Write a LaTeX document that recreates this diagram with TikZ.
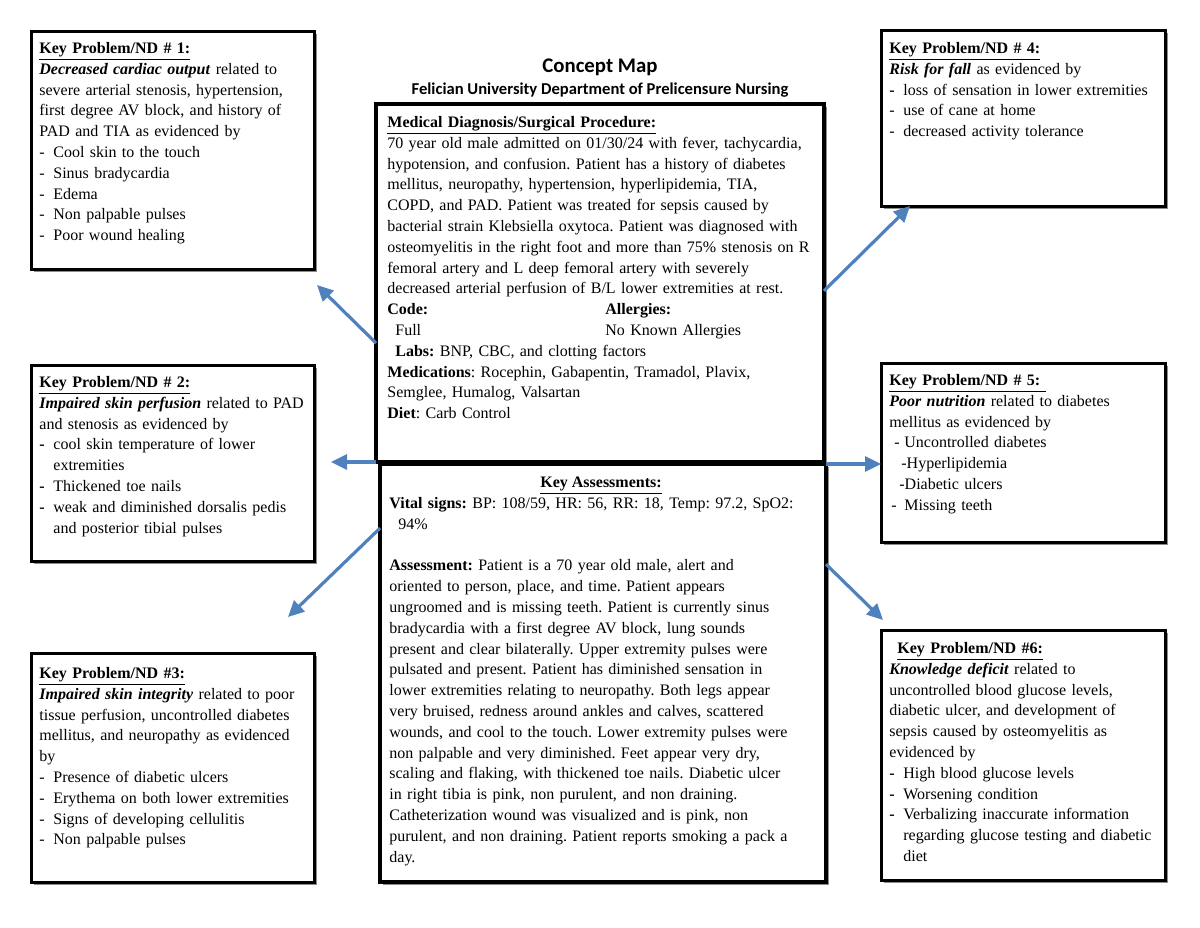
\documentclass[tikz,border=0pt]{standalone}
\usepackage{fontspec}
\setmainfont{Liberation Serif}
\newfontfamily\headfont{Carlito}
\usetikzlibrary{arrows.meta,calc,shadows}
\definecolor{linkblue}{RGB}{79,129,189}
\newcommand{\itemdash}{\makebox[7pt][l]{-}}
\newcommand{\bolddash}{\makebox[7pt][l]{\textbf{-}}}
\frenchspacing

\begin{document}
\begin{tikzpicture}[x=0.5pt, y=-0.5pt, line join=miter,
  box/.style={draw, line width=1.5pt, fill=white, inner sep=0pt, outer sep=0pt, anchor=north west,
    drop shadow={shadow xshift=1.5pt, shadow yshift=-1.5pt, fill=black!45, opacity=1}},
  bigbox/.style={box, line width=2pt},
  txt/.style={anchor=north west, inner sep=0pt, align=left, text width=150pt,
    font=\fontsize{8pt}{10.4pt}\selectfont},
  bigtxt/.style={txt, text width=240pt},
  link/.style={draw=linkblue, line width=1.6pt, -{Triangle[length=8pt,width=7.5pt]}}]
  \path[fill=white] (0,0) rectangle (1200,927);
  \useasboundingbox (0,0) rectangle (1200,927);
  % --- title ---
  \node[font=\headfont\bfseries\fontsize{10.4pt}{12pt}\selectfont] (title) at (600,67) {Concept Map};
  \node[font=\headfont\bfseries\fontsize{8.3pt}{10pt}\selectfont] (subtitle) at (600,90)
    {Felician University Department of Prelicensure Nursing};
  % --- centre boxes ---
  \node[bigbox, minimum width=224pt, minimum height=179pt] (med) at (376,104) {};
  \node[bigbox, minimum width=223pt, minimum height=209pt] (ka) at (380,464) {};
  % --- key problem boxes ---
  \node[box, minimum width=141.5pt, minimum height=119pt] (b1) at (31,31) {};
  \node[box, minimum width=141.5pt, minimum height=98pt] (b2) at (31,365) {};
  \node[box, minimum width=141.5pt, minimum height=114.5pt] (b3) at (31,653) {};
  \node[box, minimum width=142pt, minimum height=88pt] (b4) at (881,30) {};
  \node[box, minimum width=142pt, minimum height=89.5pt] (b5) at (881,363) {};
  \node[box, minimum width=142pt, minimum height=125pt] (b6) at (881,630) {};
  % --- texts ---
  \node[bigtxt] (medtext) at ([shift={(11,12)}]med.north west) {%
    \underline{\textbf{Medical Diagnosis/Surgical Procedure:}}\\
    70 year old male admitted on 01/30/24 with fever, tachycardia,\\
    hypotension, and confusion. Patient has a history of diabetes\\
    mellitus, neuropathy, hypertension, hyperlipidemia, TIA,\\
    COPD, and PAD. Patient was treated for sepsis caused by\\
    bacterial strain Klebsiella oxytoca. Patient was diagnosed with\\
    osteomyelitis in the right foot and more than 75\% stenosis on R\\
    femoral artery and L deep femoral artery with severely\\
    decreased arterial perfusion of B/L lower extremities at rest.\\
    \makebox[109pt][l]{\textbf{Code:}}\textbf{Allergies:}\\
    \hspace*{4pt}\makebox[105pt][l]{Full}No Known Allergies\\
    \hspace*{4pt}\textbf{Labs:} BNP, CBC, and clotting factors\\
    \textbf{Medications}: Rocephin, Gabapentin, Tramadol, Plavix,\\
    Semglee, Humalog, Valsartan\\
    \textbf{Diet}: Carb Control};
  \node[txt, anchor=base, text width=] (kahead) at ([shift={(-2,23)}]ka.north)
    {\underline{\textbf{Key Assessments:}}};
  \node[bigtxt] (katext) at ([shift={(9,33)}]ka.north west) {%
    \textbf{Vital signs:} BP: 108/59, HR: 56, RR: 18, Temp: 97.2, SpO2:\\
    \hspace*{4.5pt}94\%\\[10.4pt]
    \textbf{Assessment:} Patient is a 70 year old male, alert and\\
    oriented to person, place, and time. Patient appears\\
    ungroomed and is missing teeth. Patient is currently sinus\\
    bradycardia with a first degree AV block, lung sounds\\
    present and clear bilaterally. Upper extremity pulses were\\
    pulsated and present. Patient has diminished sensation in\\
    lower extremities relating to neuropathy. Both legs appear\\
    very bruised, redness around ankles and calves, scattered\\
    wounds, and cool to the touch. Lower extremity pulses were\\
    non palpable and very diminished. Feet appear very dry,\\
    scaling and flaking, with thickened toe nails. Diabetic ulcer\\
    in right tibia is pink, non purulent, and non draining.\\
    Catheterization wound was visualized and is pink, non\\
    purulent, and non draining. Patient reports smoking a pack a\\
    day.};
  \node[txt] (t1) at ([shift={(8,11)}]b1.north west) {%
    \underline{\textbf{Key Problem/ND \# 1:}}\\
    \textbf{\textit{Decreased cardiac output}} related to\\
    severe arterial stenosis, hypertension,\\
    first degree AV block, and history of\\
    PAD and TIA as evidenced by\\
    \itemdash Cool skin to the touch\\
    \itemdash Sinus bradycardia\\
    \itemdash Edema\\
    \itemdash Non palpable pulses\\
    \itemdash Poor wound healing};
  \node[txt] (t2) at ([shift={(8,11)}]b2.north west) {%
    \underline{\textbf{Key Problem/ND \# 2:}}\\
    \textbf{\textit{Impaired skin perfusion}} related to PAD\\
    and stenosis as evidenced by\\
    \bolddash cool skin temperature of lower\\
    \hspace*{7pt}extremities\\
    \bolddash Thickened toe nails\\
    \bolddash weak and diminished dorsalis pedis\\
    \hspace*{7pt}and posterior tibial pulses};
  \node[txt] (t3) at ([shift={(8,14)}]b3.north west) {%
    \underline{\textbf{Key Problem/ND \#3:}}\\
    \textbf{\textit{Impaired skin integrity}} related to poor\\
    tissue perfusion, uncontrolled diabetes\\
    mellitus, and neuropathy as evidenced\\
    by\\
    \itemdash Presence of diabetic ulcers\\
    \itemdash Erythema on both lower extremities\\
    \itemdash Signs of developing cellulitis\\
    \itemdash Non palpable pulses};
  \node[txt] (t4) at ([shift={(8,12)}]b4.north west) {%
    \underline{\textbf{Key Problem/ND \# 4:}}\\
    \textbf{\textit{Risk for fall}} as evidenced by\\
    \bolddash loss of sensation in lower extremities\\
    \itemdash use of cane at home\\
    \itemdash decreased activity tolerance};
  \node[txt] (t5) at ([shift={(8,11)}]b5.north west) {%
    \underline{\textbf{Key Problem/ND \# 5:\ }}\\
    \textbf{\textit{Poor nutrition}} related to diabetes\\
    mellitus as evidenced by\\
    \hspace*{2.5pt}\makebox[5pt][l]{-}Uncontrolled diabetes\\
    \hspace*{6pt}-Hyperlipidemia\\
    \hspace*{5pt}-Diabetic ulcers\\
    \hspace*{1pt}\makebox[6.5pt][l]{-}Missing teeth};
  \node[txt] (t6) at ([shift={(8,12)}]b6.north west) {%
    \hspace*{4pt}\underline{\textbf{Key Problem/ND \#6:}}\\
    \textbf{\textit{Knowledge deficit}} related to\\
    uncontrolled blood glucose levels,\\
    diabetic ulcer, and development of\\
    sepsis caused by osteomyelitis as\\
    evidenced by\\
    \bolddash High blood glucose levels\\
    \bolddash Worsening condition\\
    \bolddash Verbalizing inaccurate information\\
    \hspace*{7pt}regarding glucose testing and diabetic\\
    \hspace*{7pt}diet};
  % --- arrows ---
  \draw[link] (med.195) -- ([shift={(3,16)}]b1.south east);
  \draw[link, shorten >=8.5pt] (med.south west) -- (med.south west -| b2.east);
  \draw[link] (ka.147) -- ([shift={(-26,-36)}]b3.north east);
  \draw[link] (med.358) -- ([shift={(29,0)}]b4.south west);
  \draw[link] (ka.north east) -- (ka.north east -| b5.west);
  \draw[link] (ka.26) -- ([shift={(2,-10)}]b6.north west);
\end{tikzpicture}
\end{document}
